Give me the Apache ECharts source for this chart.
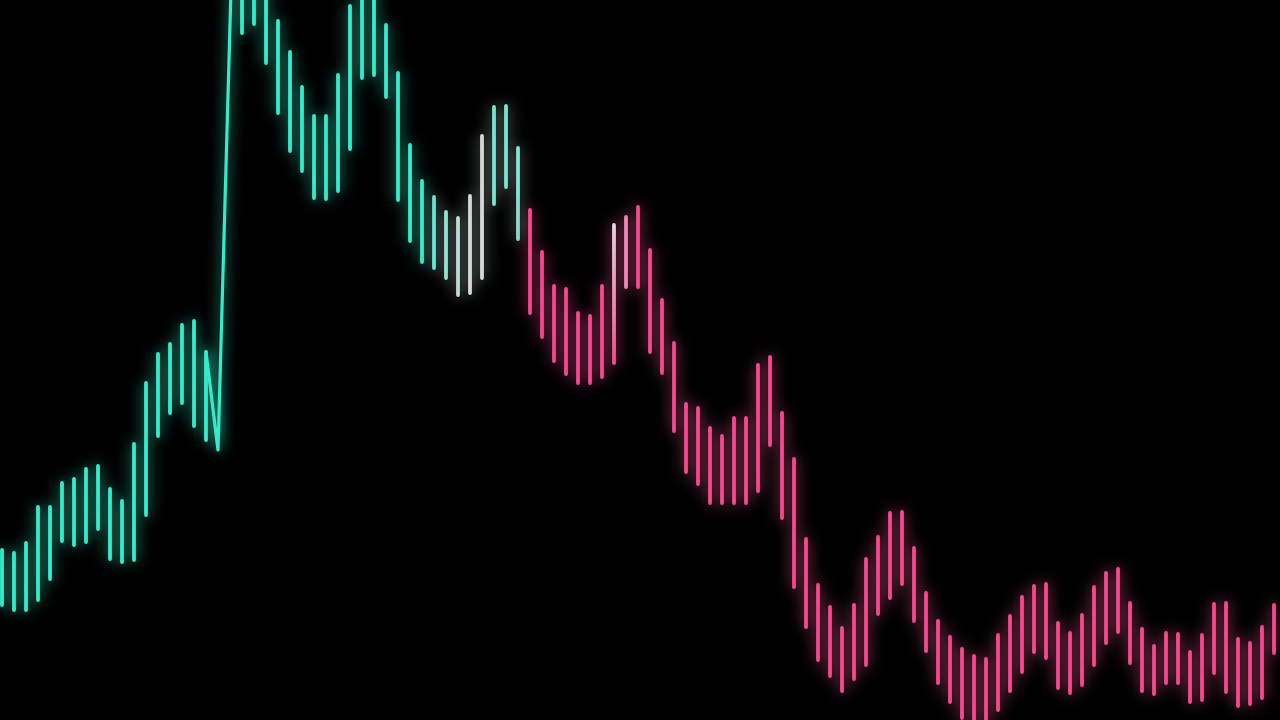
<!DOCTYPE html>
<html>
<head>
<meta charset="utf-8">
<style>html,body{margin:0;padding:0;background:#000;}#chart{width:1280px;height:720px;}</style>
<script src="https://cdn.jsdelivr.net/npm/echarts@6/dist/echarts.min.js"></script>
</head>
<body>
<div id="chart"></div>
<script>
// Period index of each bar (18 and 19 carry the breakout move, no bar)
const periods = [0,1,2,3,4,5,6,7,8,9,10,11,12,13,14,15,16,17,
  20,21,22,23,24,25,26,27,28,29,30,31,32,33,34,35,36,37,38,39,40,41,42,43,
  44,45,46,47,48,49,50,51,52,53,54,55,56,57,58,59,60,61,62,63,64,65,66,
  67,68,69,70,71,72,73,74,75,76,77,78,79,80,81,82,83,84,85,86,87,88,89,90,
  91,92,93,94,95,96,97,98,99,100,101,102,103,104,105,106];
const highs = [17.0,16.7,17.7,21.3,21.3,23.7,24.1,25.1,25.4,23.1,21.9,27.6,33.7,36.6,37.6,39.5,39.9,36.8,
  75.0,76.0,74.0,69.9,66.8,63.3,60.4,60.4,64.5,71.4,73.5,73.5,69.5,64.7,57.5,53.9,52.3,50.8,50.2,52.4,58.4,61.3,61.4,57.2,
  51.0,46.8,43.4,43.1,40.7,40.4,43.4,49.5,50.3,51.3,47.0,42.0,37.7,31.6,31.2,29.2,28.4,30.2,30.2,35.5,36.3,30.7,26.1,
  18.1,13.5,11.3,9.2,11.5,16.1,18.3,20.7,20.8,17.2,12.7,9.9,8.3,7.1,6.4,6.1,8.5,10.4,12.3,13.4,13.6,9.7,8.7,10.5,
  13.3,14.7,15.1,11.7,9.1,7.4,8.7,8.6,6.8,8.5,11.6,11.7,8.1,7.7,9.3,11.5];
const lows = [11.5,11.0,11.0,12.0,14.1,17.9,17.5,17.8,19.1,16.1,15.8,16.0,20.5,28.4,30.7,31.7,29.4,28.0,
  68.7,69.6,65.7,60.7,56.9,54.9,52.2,52.1,52.9,57.1,64.2,64.5,62.3,52.0,47.9,45.8,45.2,44.2,42.5,42.7,44.2,51.6,53.3,48.1,
  40.7,38.3,35.9,34.6,33.7,33.7,34.3,35.7,43.3,43.3,36.8,34.7,28.9,24.8,23.6,21.7,21.7,21.7,21.7,22.9,27.5,20.2,13.3,
  9.3,6.0,4.4,2.9,4.1,5.5,10.6,12.2,13.6,9.9,6.9,3.7,1.8,0.2,-0.5,-0.5,1.0,2.9,4.8,6.8,6.2,3.2,2.7,3.5,
  5.5,7.7,8.8,5.7,2.9,2.6,3.7,3.7,1.8,2.0,4.7,2.8,1.4,1.6,2.2,6.7];
// Breakout move: top of bar 17 -> dip -> vertical surge
const breakoutX = [17, 18, 19.2];
const breakoutY = [36.8, 27.0, 78.0];

const TEAL = '#33ecca', PINK = '#f4498e';
function mix(a, b, t) {
  const pa = [1,3,5].map(k => parseInt(a.substr(k,2),16));
  const pb = [1,3,5].map(k => parseInt(b.substr(k,2),16));
  return 'rgb(' + pa.map((v,k) => Math.round(v + (pb[k]-v)*t)).join(',') + ')';
}
function colorFor(p) {
  if (p <= 35) return TEAL;
  if (p <= 40) return mix(TEAL, '#d8d8d8', Math.min(1, (p - 35) / 3.5));
  if (p <= 43) return mix('#d8d8d8', TEAL, p === 43 ? 0.5 : 0.6);
  if (p === 51) return new echarts.graphic.LinearGradient(0,0,0,1,[{offset:0,color:'#e0e0e0'},{offset:1,color:PINK}]);
  if (p === 52) return mix(PINK, '#e8d8e0', 0.45);
  return PINK;
}
function glowFor(p) {
  if (p <= 35) return 'rgba(51,236,202,0.9)';
  if (p <= 43) return 'rgba(200,230,220,0.7)';
  return 'rgba(244,73,142,0.9)';
}

const barData = periods.map((p, i) => [p, highs[i], lows[i]]);
const breakoutData = breakoutX.map((x, i) => [x, breakoutY[i]]);

const chart = echarts.init(document.getElementById('chart'));
chart.setOption({
  backgroundColor: '#000',
  animation: false,
  grid: {left: 0, right: 0, top: 0, bottom: 0},
  xAxis: {type: 'value', min: -1/6, max: 106.5, show: false},
  yAxis: {type: 'value', min: 0, max: 72, show: false},
  series: [
    {
      type: 'line',
      data: breakoutData,
      symbol: 'none',
      clip: true,
      lineStyle: {color: TEAL, width: 3.2, shadowBlur: 14, shadowColor: TEAL, cap: 'round', join: 'round'}
    },
    {
      type: 'custom',
      clip: true,
      data: barData,
      encode: {x: 0, y: [1, 2]},
      renderItem: function (params, api) {
        const p = api.value(0);
        const a = api.coord([p, api.value(1)]);
        const b = api.coord([p, api.value(2)]);
        return {
          type: 'line',
          shape: {x1: a[0], y1: a[1], x2: b[0], y2: b[1]},
          style: {stroke: colorFor(p), lineWidth: 3.8, lineCap: 'round', shadowBlur: 15, shadowColor: glowFor(p)}
        };
      }
    }
  ]
});
</script>
</body>
</html>
